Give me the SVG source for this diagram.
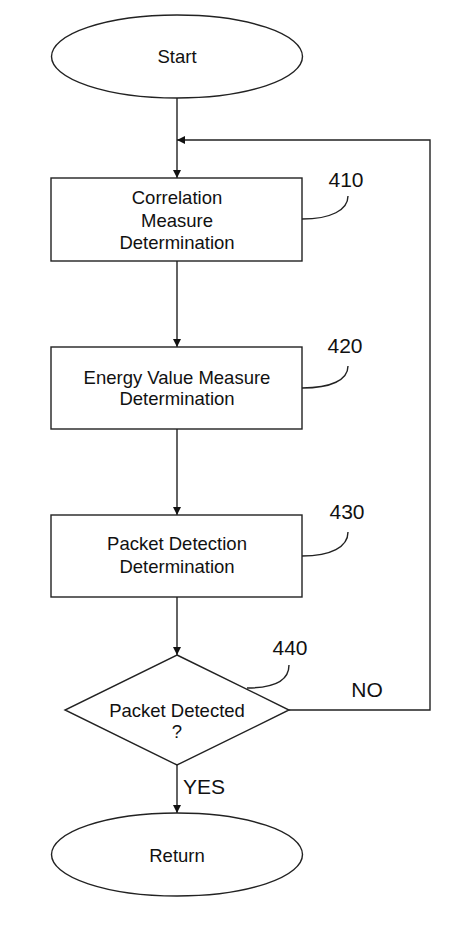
<svg xmlns="http://www.w3.org/2000/svg" width="474" height="943" viewBox="0 0 474 943">
<style>
.shape{fill:#fff;stroke:#222;stroke-width:1.4}
.line{fill:none;stroke:#222;stroke-width:1.4}
.t{font-family:"Liberation Sans",Arial,sans-serif;font-size:18.5px;fill:#111;text-anchor:middle}
.n{font-family:"Liberation Sans",Arial,sans-serif;font-size:21px;fill:#111;text-anchor:middle}
</style>
<defs>
<marker id="ah" viewBox="0 0 10 10" refX="10" refY="5" markerWidth="8" markerHeight="12" markerUnits="userSpaceOnUse" orient="auto">
<path d="M0,0 L10,5 L0,10 z" fill="#111"/>
</marker>
</defs>
<rect width="474" height="943" fill="#fff"/>
<g id="connectors">
<line class="line" x1="177" y1="98" x2="177" y2="178" marker-end="url(#ah)"/>
<line class="line" x1="177" y1="261" x2="177" y2="347" marker-end="url(#ah)"/>
<line class="line" x1="177" y1="429" x2="177" y2="515" marker-end="url(#ah)"/>
<line class="line" x1="177" y1="597" x2="177" y2="655" marker-end="url(#ah)"/>
<line class="line" x1="177" y1="765" x2="177" y2="813" marker-end="url(#ah)"/>
<polyline class="line" points="289,710 430,710 430,140 177,140" marker-end="url(#ah)"/>
<text class="n" x="367" y="697">NO</text>
<text class="n" x="183" y="794" style="text-anchor:start">YES</text>
</g>
<g id="start">
<ellipse class="shape" cx="177" cy="56.5" rx="125.5" ry="41.5"/>
<text class="t" x="177" y="63">Start</text>
</g>
<g id="n410">
<rect class="shape" x="51" y="178" width="251" height="83"/>
<text class="t" x="177" y="203.5">Correlation</text>
<text class="t" x="177" y="226.5">Measure</text>
<text class="t" x="177" y="249">Determination</text>
<path class="line" d="M302,219 C331,219 348,210 348,196"/>
<text class="n" x="346" y="187">410</text>
</g>
<g id="n420">
<rect class="shape" x="51" y="347" width="251" height="82"/>
<text class="t" x="177" y="383.5">Energy Value Measure</text>
<text class="t" x="177" y="405">Determination</text>
<path class="line" d="M302,388 C331,388 348,380 348,366"/>
<text class="n" x="345" y="353">420</text>
</g>
<g id="n430">
<rect class="shape" x="51" y="515" width="251" height="82"/>
<text class="t" x="177" y="550">Packet Detection</text>
<text class="t" x="177" y="572.5">Determination</text>
<path class="line" d="M302,556 C331,556 348,547 348,532"/>
<text class="n" x="347" y="519">430</text>
</g>
<g id="n440">
<polygon class="shape" points="177,655 289,710 177,765 65,710"/>
<text class="t" x="177" y="717">Packet Detected</text>
<text class="t" x="177" y="737.5">?</text>
<path class="line" d="M247,688 C275,688 289,680 289,665"/>
<text class="n" x="290" y="655">440</text>
</g>
<g id="return">
<ellipse class="shape" cx="177" cy="854.5" rx="125.5" ry="41.5"/>
<text class="t" x="177" y="861.5">Return</text>
</g>
</svg>
